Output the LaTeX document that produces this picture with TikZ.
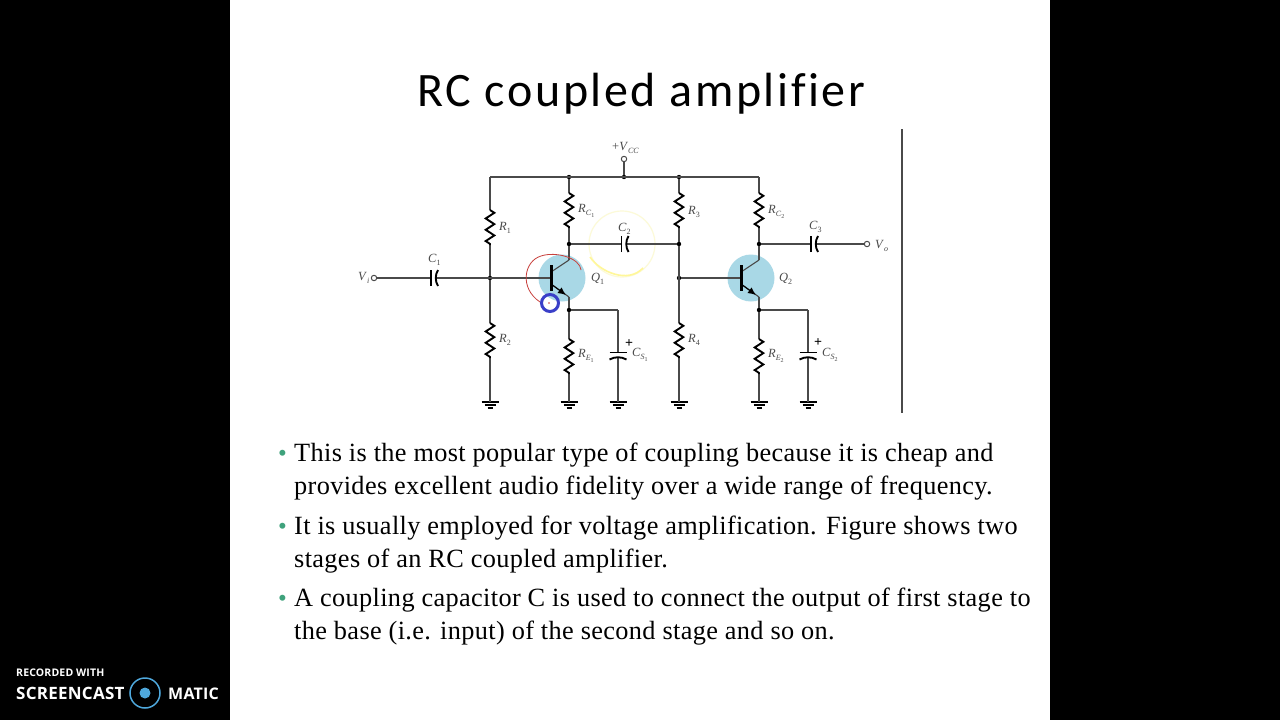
\documentclass[tikz,border=0pt]{standalone}
\usepackage{fontspec}
\usepackage{xcolor}
\usetikzlibrary{arrows.meta,decorations.pathmorphing}
\setmainfont{Liberation Serif}
\newfontfamily\bodyfont[LetterSpace=1.35]{Liberation Serif}
\newfontfamily\titlefont[LetterSpace=5.4,Ligatures=NoCommon]{Carlito}
\newfontfamily\logofont[LetterSpace=1.5]{Open Sans}
\definecolor{C4A4A4A}{HTML}{4A4A4A}
\definecolor{CA9D8E6}{HTML}{A9D8E6}
\definecolor{C3FA27C}{HTML}{3FA27C}
\definecolor{CD8403C}{HTML}{C8403C}
\definecolor{C3A3FC8}{HTML}{3A3FC8}
\definecolor{CFBF7C0}{HTML}{FCFAD8}
\definecolor{CFFF79A}{HTML}{FFF79A}
\definecolor{C4FA8DC}{HTML}{4FA8DC}
\newcommand{\subsz}{\fontsize{8}{9}\selectfont}
\newcommand{\subsb}{\fontsize{6}{7}\selectfont}
\newcommand{\lbl}[2]{\textit{#1}\raisebox{-2.5pt}{\subsz #2}}
\newcommand{\lbll}[3]{\textit{#1}\raisebox{-2.5pt}{\subsz\textit{#2}\raisebox{-2pt}{\subsb #3}}}
\tikzset{
  wire/.style={line width=1.1pt,draw=C4A4A4A},
  zig/.style={line width=1.9pt,draw=black,decorate,decoration={zigzag,segment length=11.3pt,amplitude=4.3pt}},
  dot/.style={shape=circle,fill=black,inner sep=0pt,minimum size=4.4pt},
  term/.style={shape=circle,draw=C4A4A4A,fill=white,line width=1pt,inner sep=0pt,minimum size=5.4pt},
  qball/.style={shape=circle,fill=CA9D8E6,inner sep=0pt,minimum size=47pt},
  lab/.style={anchor=west,inner sep=0pt,text=C4A4A4A,font=\fontsize{12.5}{13}\selectfont},
  plus/.style={anchor=center,inner sep=0pt,text=black,font=\bfseries\fontsize{14}{14}\selectfont},
  txt/.style={anchor=base west,inner sep=0pt,font=\bodyfont\fontsize{26.3}{30}\selectfont},
  bul/.style={anchor=base west,inner sep=0pt,text=C3FA27C,font=\fontsize{25}{30}\selectfont},
  capv/.pic={\draw[line width=1.9pt] (-2.5pt,-8pt)--(-2.5pt,8pt);
    \draw[line width=1.9pt] (4.5pt,-8pt) .. controls (1.5pt,-3pt) and (1.5pt,3pt) .. (4.5pt,8pt);},
  caph/.pic={\draw[line width=1.9pt] (-8.5pt,2.5pt)--(8.5pt,2.5pt);
    \draw[line width=1.9pt] (-8.5pt,-4.5pt) .. controls (-3pt,-1.5pt) and (3pt,-1.5pt) .. (8.5pt,-4.5pt);},
  gnd/.pic={\draw[line width=1.6pt] (-8.5pt,0pt)--(8.5pt,0pt);
    \draw[line width=1.6pt] (-5.5pt,-3pt)--(5.5pt,-3pt);
    \draw[line width=1.6pt] (-2.5pt,-6pt)--(2.5pt,-6pt);},
}
\begin{document}
\begin{tikzpicture}[inner sep=0pt]
\useasboundingbox (0pt,0pt) rectangle (1280pt,-720pt);
\fill[black] (0pt,0pt) rectangle (1280pt,-720pt);
\fill[white] (230pt,0pt) rectangle (1050pt,-720pt);

\node (title) [anchor=base,at={(641.5pt,-106pt)},font=\titlefont\fontsize{48}{50}\selectfont] {RC coupled amplifier};

% pen mark behind the wires
\draw [line width=1.2pt,CFBF7C0] (622pt,-244pt) circle (33pt);
\draw [line width=1.6pt,CFFF79A] (590pt,-257pt) .. controls (600pt,-272pt) and (628pt,-284pt) .. (643pt,-268pt);

% transistors
\node (q1) [qball,at={(562pt,-278pt)}] {};
\node (q2) [qball,at={(751pt,-278pt)}] {};

% junctions
\node (n0) [term,at={(624pt,-159pt)}] {};
\node (n1) [dot,at={(624pt,-177pt)}] {};
\coordinate (n2) at (490pt,-177pt);
\node (n3) [dot,at={(569pt,-177pt)}] {};
\node (n4) [dot,at={(679pt,-177pt)}] {};
\coordinate (n5) at (759pt,-177pt);
\node (n6) [term,at={(374pt,-278pt)}] {};
\node (n7) [dot,at={(490pt,-278pt)}] {};
\node (n8) [dot,at={(569pt,-244pt)}] {};
\node (n9) [dot,at={(679pt,-244pt)}] {};
\node (n10) [dot,at={(679pt,-278pt)}] {};
\node (n11) [dot,at={(759pt,-244pt)}] {};
\node (n12) [term,at={(867pt,-244pt)}] {};
\node (n13) [dot,at={(569pt,-310pt)}] {};
\coordinate (n14) at (618pt,-310pt);
\node (n15) [dot,at={(759pt,-310pt)}] {};
\coordinate (n16) at (808pt,-310pt);

% resistor ends
\coordinate (r1a) at (490pt,-210pt); \coordinate (r1b) at (490pt,-245pt);
\coordinate (r2a) at (490pt,-323pt); \coordinate (r2b) at (490pt,-358pt);
\coordinate (r3a) at (569pt,-193pt); \coordinate (r3b) at (569pt,-228pt);
\coordinate (r4a) at (569pt,-339pt); \coordinate (r4b) at (569pt,-374pt);
\coordinate (r5a) at (679pt,-193pt); \coordinate (r5b) at (679pt,-228pt);
\coordinate (r6a) at (679pt,-323pt); \coordinate (r6b) at (679pt,-358pt);
\coordinate (r7a) at (759pt,-193pt); \coordinate (r7b) at (759pt,-228pt);
\coordinate (r8a) at (759pt,-339pt); \coordinate (r8b) at (759pt,-374pt);

% capacitors and grounds
\coordinate (c1) at (433.5pt,-278pt);
\coordinate (c2) at (624pt,-244pt);
\coordinate (c3) at (813.5pt,-244pt);
\coordinate (c4) at (618pt,-355pt);
\coordinate (c5) at (808pt,-355pt);
\coordinate (g1) at (490pt,-402pt);
\coordinate (g2) at (569pt,-402pt);
\coordinate (g3) at (618pt,-402pt);
\coordinate (g4) at (679pt,-402pt);
\coordinate (g5) at (759pt,-402pt);
\coordinate (g6) at (808pt,-402pt);
\pic at (g1) {gnd};
\pic at (g2) {gnd};
\pic at (g3) {gnd};
\pic at (g4) {gnd};
\pic at (g5) {gnd};
\pic at (g6) {gnd};

% transistor pins
\coordinate (b1) at (551pt,-278pt); \coordinate (b1t) at (551pt,-265pt); \coordinate (b1b) at (551pt,-291pt);
\coordinate (k1a) at (551pt,-272pt); \coordinate (k1b) at (569pt,-260pt);
\coordinate (e1a) at (551pt,-284pt); \coordinate (e1b) at (569pt,-297pt); \coordinate (e1c) at (566pt,-295pt);
\coordinate (b2) at (741pt,-278pt); \coordinate (b2t) at (741pt,-265pt); \coordinate (b2b) at (741pt,-291pt);
\coordinate (k2a) at (741pt,-272pt); \coordinate (k2b) at (759pt,-260pt);
\coordinate (e2a) at (741pt,-284pt); \coordinate (e2b) at (759pt,-297pt); \coordinate (e2c) at (756pt,-295pt);

\path [wire](n0)--(n1);
\path [wire](n2)--(n5);
\path [wire](n2)--(r1a);
\path [wire](r1b)--(n7);
\path [wire](n7)--(r2a);
\path [wire](r2b)--(g1);
\path [wire](n3)--(r3a);
\path [wire](r3b)--(n8);
\path [wire](n8)--(k1b);
\path [wire](k1a)--(k1b);
\path [wire](e1a)--(e1b);
\path [wire](e1b)--(n13);
\path [wire](n13)--(r4a);
\path [wire](r4b)--(g2);
\path [wire](n13)--(n14);
\path [wire](n14)--(c4);
\path [wire](c4)--(g3);
\path [wire](n4)--(r5a);
\path [wire](r5b)--(n9);
\path [wire](n9)--(r6a);
\path [wire](r6b)--(g4);
\path [wire](n5)--(r7a);
\path [wire](r7b)--(n11);
\path [wire](n11)--(k2b);
\path [wire](k2a)--(k2b);
\path [wire](e2a)--(e2b);
\path [wire](e2b)--(n15);
\path [wire](n15)--(r8a);
\path [wire](r8b)--(g5);
\path [wire](n15)--(n16);
\path [wire](n16)--(c5);
\path [wire](c5)--(g6);
\path [wire](n6)--(c1);
\path [wire](c1)--(b1);
\path [wire](n8)--(c2);
\path [wire](c2)--(n9);
\path [wire](n10)--(b2);
\path [wire](n11)--(c3);
\path [wire](c3)--(n12);
\path [zig](r1a)--(r1b);
\path [zig](r2a)--(r2b);
\path [zig](r3a)--(r3b);
\path [zig](r4a)--(r4b);
\path [zig](r5a)--(r5b);
\path [zig](r6a)--(r6b);
\path [zig](r7a)--(r7b);
\path [zig](r8a)--(r8b);
\path [line width=3pt,draw](b1t)--(b1b);
\path [line width=3pt,draw](b2t)--(b2b);
\path [-{Latex[length=8pt,width=7pt]},line width=1.1pt,draw](e1a)--(e1c);
\path [-{Latex[length=8pt,width=7pt]},line width=1.1pt,draw](e2a)--(e2c);

% white gaps at the plates, then the plates
\fill [white] (431pt,-270pt) rectangle (436pt,-286pt);
\fill [white] (621.5pt,-236pt) rectangle (626.5pt,-252pt);
\fill [white] (811pt,-236pt) rectangle (816pt,-252pt);
\fill [white] (609.5pt,-352.5pt) rectangle (626.5pt,-358pt);
\fill [white] (799.5pt,-352.5pt) rectangle (816.5pt,-358pt);
\pic at (c1) {capv};
\pic at (c2) {capv};
\pic at (c3) {capv};
\pic at (c4) {caph};
\pic at (c5) {caph};

% labels
\node (l0) [lab,at={(612pt,-148pt)}] {+\lbl{V}{\textit{CC}}};
\node (l1) [lab,at={(358pt,-278pt)}] {\lbl{V}{\textit{i}}};
\node (l2) [lab,at={(428pt,-260pt)}] {\lbl{C}{1}};
\node (l3) [lab,at={(499pt,-228pt)}] {\lbl{R}{1}};
\node (l4) [lab,at={(499pt,-340pt)}] {\lbl{R}{2}};
\node (l5) [lab,at={(578pt,-211pt)}] {\lbll{R}{C}{1}};
\node (l6) [lab,at={(578pt,-356pt)}] {\lbll{R}{E}{1}};
\node (l7) [lab,at={(618pt,-229pt)}] {\lbl{C}{2}};
\node (l8) [lab,at={(591pt,-279pt)}] {\lbl{Q}{1}};
\node (l9) [lab,at={(632pt,-355pt)}] {\lbll{C}{S}{1}};
\node (l10) [plus,at={(629pt,-344pt)}] {+};
\node (l11) [lab,at={(688pt,-212pt)}] {\lbl{R}{3}};
\node (l12) [lab,at={(688pt,-340pt)}] {\lbl{R}{4}};
\node (l13) [lab,at={(768pt,-212pt)}] {\lbll{R}{C}{2}};
\node (l14) [lab,at={(768pt,-356pt)}] {\lbll{R}{E}{2}};
\node (l15) [lab,at={(809pt,-227pt)}] {\lbl{C}{3}};
\node (l16) [lab,at={(779pt,-279pt)}] {\lbl{Q}{2}};
\node (l17) [lab,at={(875pt,-246pt)}] {\lbl{V}{\textit{o}}};
\node (l18) [lab,at={(822pt,-355pt)}] {\lbll{C}{S}{2}};
\node (l19) [plus,at={(818pt,-343pt)}] {+};

% slide rule and pen marks
\draw [line width=1.2pt,C4A4A4A] (902pt,-129pt)--(902pt,-413pt);
\draw [line width=0.8pt,CD8403C] (581pt,-270pt) .. controls (580pt,-258pt) and (556pt,-251pt) .. (541pt,-256pt)
  .. controls (524pt,-261pt) and (519pt,-288pt) .. (540pt,-302pt);
\draw [line width=3pt,C3A3FC8] (550pt,-303pt) circle (8.5pt);
\fill [CD8403C] (549pt,-303pt) circle (0.8pt);

% bullets
\node (b0) [bul,at={(278pt,-461pt)}] {•};
\node (t0) [txt,at={(294pt,-461pt)}] {This is the most popular type of coupling because it is cheap and};
\node (t1) [txt,at={(294pt,-494pt)}] {provides excellent audio fidelity over a wide range of frequency.};
\node (b1n) [bul,at={(278pt,-534pt)}] {•};
\node (t2) [txt,at={(294pt,-534pt)}] {It is usually employed for voltage amplification. Figure shows two};
\node (t3) [txt,at={(294pt,-567pt)}] {stages of an RC coupled amplifier.};
\node (b2n) [bul,at={(278pt,-606pt)}] {•};
\node (t4) [txt,at={(294pt,-606pt)}] {A coupling capacitor C is used to connect the output of first stage to};
\node (t5) [txt,at={(294pt,-639pt)}] {the base (i.e. input) of the second stage and so on.};

% recorder badge
\node (w0) [anchor=base west,text=white,at={(16pt,-676pt)},font=\logofont\bfseries\fontsize{10.5}{12}\selectfont] {RECORDED WITH};
\node (w1) [anchor=base west,text=white,at={(16pt,-699pt)},font=\logofont\bfseries\fontsize{17}{18}\selectfont] {SCREENCAST};
\node (w2) [anchor=base west,text=white,at={(168pt,-699pt)},font=\logofont\bfseries\fontsize{16}{18}\selectfont] {MATIC};
\node (w3) [shape=circle,draw=C4FA8DC,line width=1.5pt,minimum size=30pt,at={(145pt,-693pt)}] {};
\node (w4) [shape=circle,fill=C4FA8DC,minimum size=11pt,at={(145pt,-693pt)}] {};
\end{tikzpicture}
\end{document}
